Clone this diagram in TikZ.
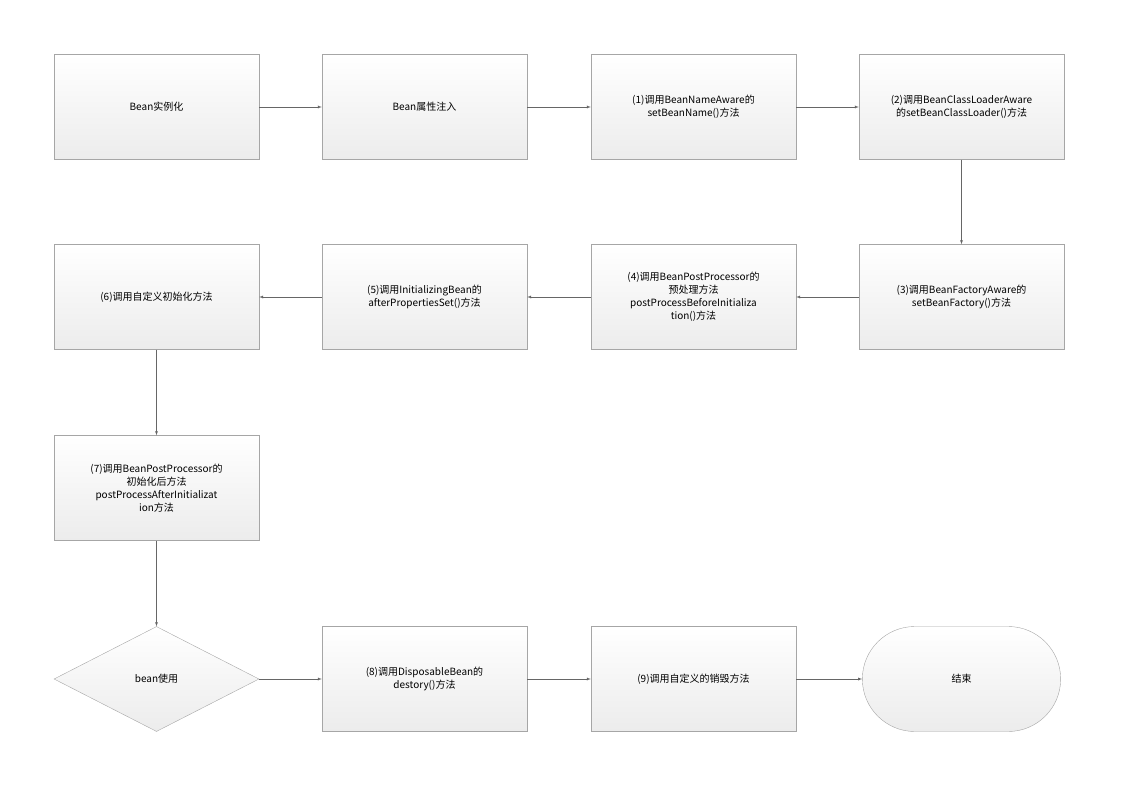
\documentclass[tikz,border=0pt]{standalone}
\usepackage{fontspec}
\setmainfont{Noto Sans CJK SC}
\usetikzlibrary{shapes.geometric,shapes.misc}
\tikzset{
  stepbox/.style={draw=gray!70, top color=white, bottom color=gray!15,
    minimum width=205pt, minimum height=105pt, align=center, font=\fontsize{10}{13}\selectfont, text width=195pt},
  arr/.style={draw=gray!80!black, -latex}
}
\begin{document}
\begin{tikzpicture}[x=1pt,y=-1pt]
        \useasboundingbox (0,0) rectangle (1123,794);
        \node[stepbox] (1) at (156.5,107) {Bean实例化};
        \node[stepbox] (2) at (424.5,107) {Bean属性注入};
        \node[stepbox] (3) at (693.5,107) {(1)调用BeanNameAware的\\setBeanName()方法};
        \node[stepbox] (4) at (961.5,107) {(2)调用BeanClassLoaderAware\\的setBeanClassLoader()方法};
        \node[stepbox] (5) at (961.5,297) {(3)调用BeanFactoryAware的\\setBeanFactory()方法};
        \node[stepbox] (6) at (693.5,297) {(4)调用BeanPostProcessor的\\预处理方法\\postProcessBeforeInitializa\\tion()方法};
        \node[stepbox] (7) at (424.5,297) {(5)调用InitializingBean的\\afterPropertiesSet()方法};
        \node[stepbox] (8) at (156.5,297) {(6)调用自定义初始化方法};
        \node[stepbox] (9) at (156.5,488) {(7)调用BeanPostProcessor的\\初始化后方法\\postProcessAfterInitializat\\ion方法};
        \node[draw=gray!70, top color=white, bottom color=gray!15, diamond, aspect=2,
          minimum width=205pt, minimum height=105pt, inner sep=0pt, font=\fontsize{10}{13}\selectfont] (10) at (156.5,679) {bean使用};
        \node[stepbox] (11) at (424.5,679) {(8)调用DisposableBean的\\destory()方法};
        \node[stepbox] (12) at (693.5,679) {(9)调用自定义的销毁方法};
        \node[stepbox, rounded rectangle] (13) at (961.5,679) {结束};
        \path[arr] (1) -- (2);
        \path[arr] (2) -- (3);
        \path[arr] (3) -- (4);
        \path[arr] (4) -- (5);
        \path[arr] (5) -- (6);
        \path[arr] (6) -- (7);
        \path[arr] (7) -- (8);
        \path[arr] (8) -- (9);
        \path[arr] (9) -- (10);
        \path[arr] (10) -- (11);
        \path[arr] (11) -- (12);
        \path[arr] (12) -- (13);
    \end{tikzpicture}
\end{document}
